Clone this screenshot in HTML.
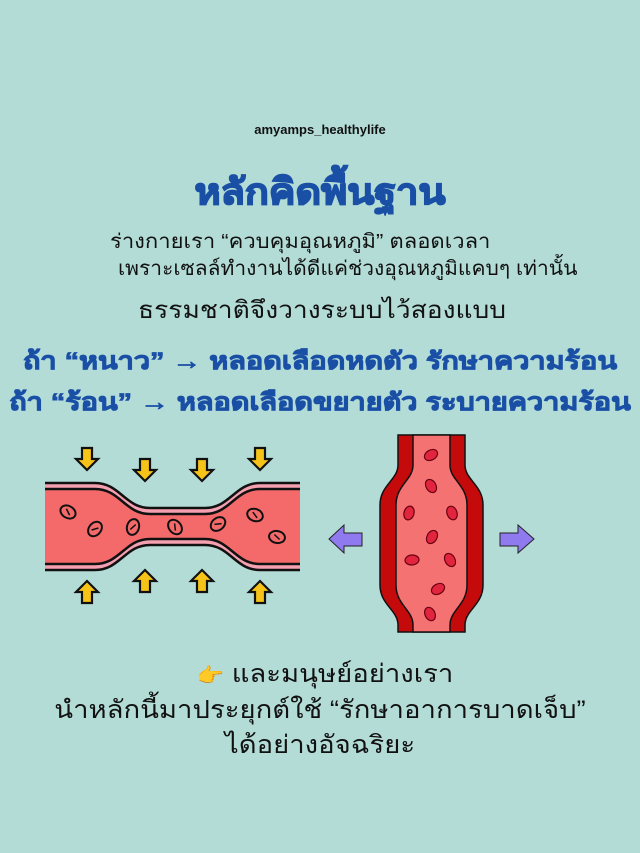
<!DOCTYPE html>
<html><head><meta charset="utf-8"><style>
html,body{margin:0;padding:0}
body{width:640px;height:853px;background:#b3dcd7;position:relative;overflow:hidden;font-family:"Liberation Sans","DejaVu Sans",sans-serif;color:#111}
.t{position:absolute;left:0;width:640px;text-align:center;white-space:nowrap}
.b{color:#1a4fa6;font-weight:900;-webkit-text-stroke:0.8px #1a4fa6}
</style></head><body>
<div class="t" style="top:122px;font-size:13px;font-weight:bold">amyamps_healthylife</div>
<div class="t b" style="top:163px;font-size:36px;transform:scaleX(1.1);-webkit-text-stroke:1.5px #1a4fa6">หลักคิดพื้นฐาน</div>
<div class="t" style="top:225px;left:110px;width:400px;text-align:left;font-size:20px;transform-origin:0 0;transform:scaleX(1.1)">ร่างกายเรา “ควบคุมอุณหภูมิ” ตลอดเวลา</div>
<div class="t" style="top:252px;left:118px;width:470px;text-align:left;font-size:20px;transform-origin:0 0;transform:scaleX(1.05)">เพราะเซลล์ทำงานได้ดีแค่ช่วงอุณหภูมิแคบๆ เท่านั้น</div>
<div class="t" style="top:290px;left:2px;font-size:24px;transform:scaleX(1.1)">ธรรมชาติจึงวางระบบไว้สองแบบ</div>
<div class="t b" style="top:341px;font-size:24px;transform:scaleX(1.2)">ถ้า “หนาว” → หลอดเลือดหดตัว รักษาความร้อน</div>
<div class="t b" style="top:382px;font-size:24px;transform:scaleX(1.2)">ถ้า “ร้อน” → หลอดเลือดขยายตัว ระบายความร้อน</div>
<svg style="position:absolute;left:0;top:0" width="640" height="853">
<defs>
<g id="ad"><path d="M-5,-11 H5 V0 H11 L0,11 L-11,0 H-5 Z" fill="#f6c319" stroke="#111" stroke-width="2.2"/></g>
<g id="cell"><ellipse rx="6" ry="8" fill="#f46a6a" stroke="#111" stroke-width="2"/><line x1="-2" y1="3" x2="2" y2="-3" stroke="#111" stroke-width="1.5"/></g>
<g id="rc"><ellipse rx="5" ry="7" fill="#e2253f" stroke="#6a0010" stroke-width="1.2"/></g>
</defs>
<path d="M45,483 H95 C120,483 125,508 150,508 H205 C230,508 235,483 260,483 H300 V570 H260 C235,570 230,545 205,545 H150 C125,545 120,570 95,570 H45 Z" fill="#f46a6a"/>
<g fill="none" stroke-width="2.5">
<path d="M45,485.5 H95 C120,485.5 125,510.5 150,510.5 H205 C230,510.5 235,485.5 260,485.5 H300" stroke="#f5a0b0" stroke-width="5"/>
<path d="M45,567.5 H95 C120,567.5 125,542.5 150,542.5 H205 C230,542.5 235,567.5 260,567.5 H300" stroke="#f5a0b0" stroke-width="5"/>
<path d="M45,483 H95 C120,483 125,508 150,508 H205 C230,508 235,483 260,483 H300" stroke="#111"/>
<path d="M45,489 H95 C120,489 125,514 150,514 H205 C230,514 235,489 260,489 H300" stroke="#111"/>
<path d="M45,570 H95 C120,570 125,545 150,545 H205 C230,545 235,570 260,570 H300" stroke="#111"/>
<path d="M45,564 H95 C120,564 125,539 150,539 H205 C230,539 235,564 260,564 H300" stroke="#111"/>
</g>
<use href="#cell" transform="translate(68,512) rotate(-60)"/>
<use href="#cell" transform="translate(95,529) rotate(40)"/>
<use href="#cell" transform="translate(133,527) rotate(15)"/>
<use href="#cell" transform="translate(175,527) rotate(-40)"/>
<use href="#cell" transform="translate(218,524) rotate(50)"/>
<use href="#cell" transform="translate(255,515) rotate(-70)"/>
<use href="#cell" transform="translate(277,537) rotate(-80)"/>
<use href="#ad" transform="translate(87,459)"/>
<use href="#ad" transform="translate(145,470)"/>
<use href="#ad" transform="translate(202,470)"/>
<use href="#ad" transform="translate(260,459)"/>
<use href="#ad" transform="translate(87,592) rotate(180)"/>
<use href="#ad" transform="translate(145,581) rotate(180)"/>
<use href="#ad" transform="translate(202,581) rotate(180)"/>
<use href="#ad" transform="translate(260,592) rotate(180)"/>
<path d="M398,435 H465 V465 C465,480 483,485 483,505 V585 C483,605 465,610 465,625 V632 H398 V625 C398,610 380,605 380,585 V505 C380,485 398,480 398,465 Z" fill="#c40a0a" stroke="#111" stroke-width="1.5"/>
<path d="M413,435 H450 V465 C450,480 467,485 467,505 V585 C467,605 450,610 450,625 V632 H413 V625 C413,610 396,605 396,585 V505 C396,485 413,480 413,465 Z" fill="#f57272" stroke="#111" stroke-width="1.5"/>
<use href="#rc" transform="translate(431,455) rotate(60)"/>
<use href="#rc" transform="translate(431,486) rotate(-30)"/>
<use href="#rc" transform="translate(409,513) rotate(15)"/>
<use href="#rc" transform="translate(452,513) rotate(-20)"/>
<use href="#rc" transform="translate(432,537) rotate(30)"/>
<use href="#rc" transform="translate(412,560) rotate(85)"/>
<use href="#rc" transform="translate(450,560) rotate(-30)"/>
<use href="#rc" transform="translate(438,589) rotate(60)"/>
<use href="#rc" transform="translate(430,614) rotate(-25)"/>
<path d="M362,533 H344 V525 L329,539 L344,553 V546 H362 Z" fill="#8f7af0" stroke="#222" stroke-width="1"/>
<path d="M500,533 H518 V525 L534,539 L518,553 V546 H500 Z" fill="#8f7af0" stroke="#222" stroke-width="1"/>
</svg>
<div class="t" style="top:654px;left:5px;font-size:25px;transform:scaleX(1.1)"><span style="font-size:20px">👉</span> และมนุษย์อย่างเรา</div>
<div class="t" style="top:690px;font-size:25px;transform:scaleX(1.1)">นำหลักนี้มาประยุกต์ใช้ “รักษาอาการบาดเจ็บ”</div>
<div class="t" style="top:725px;font-size:25px;transform:scaleX(1.1)">ได้อย่างอัจฉริยะ</div>
</body></html>
